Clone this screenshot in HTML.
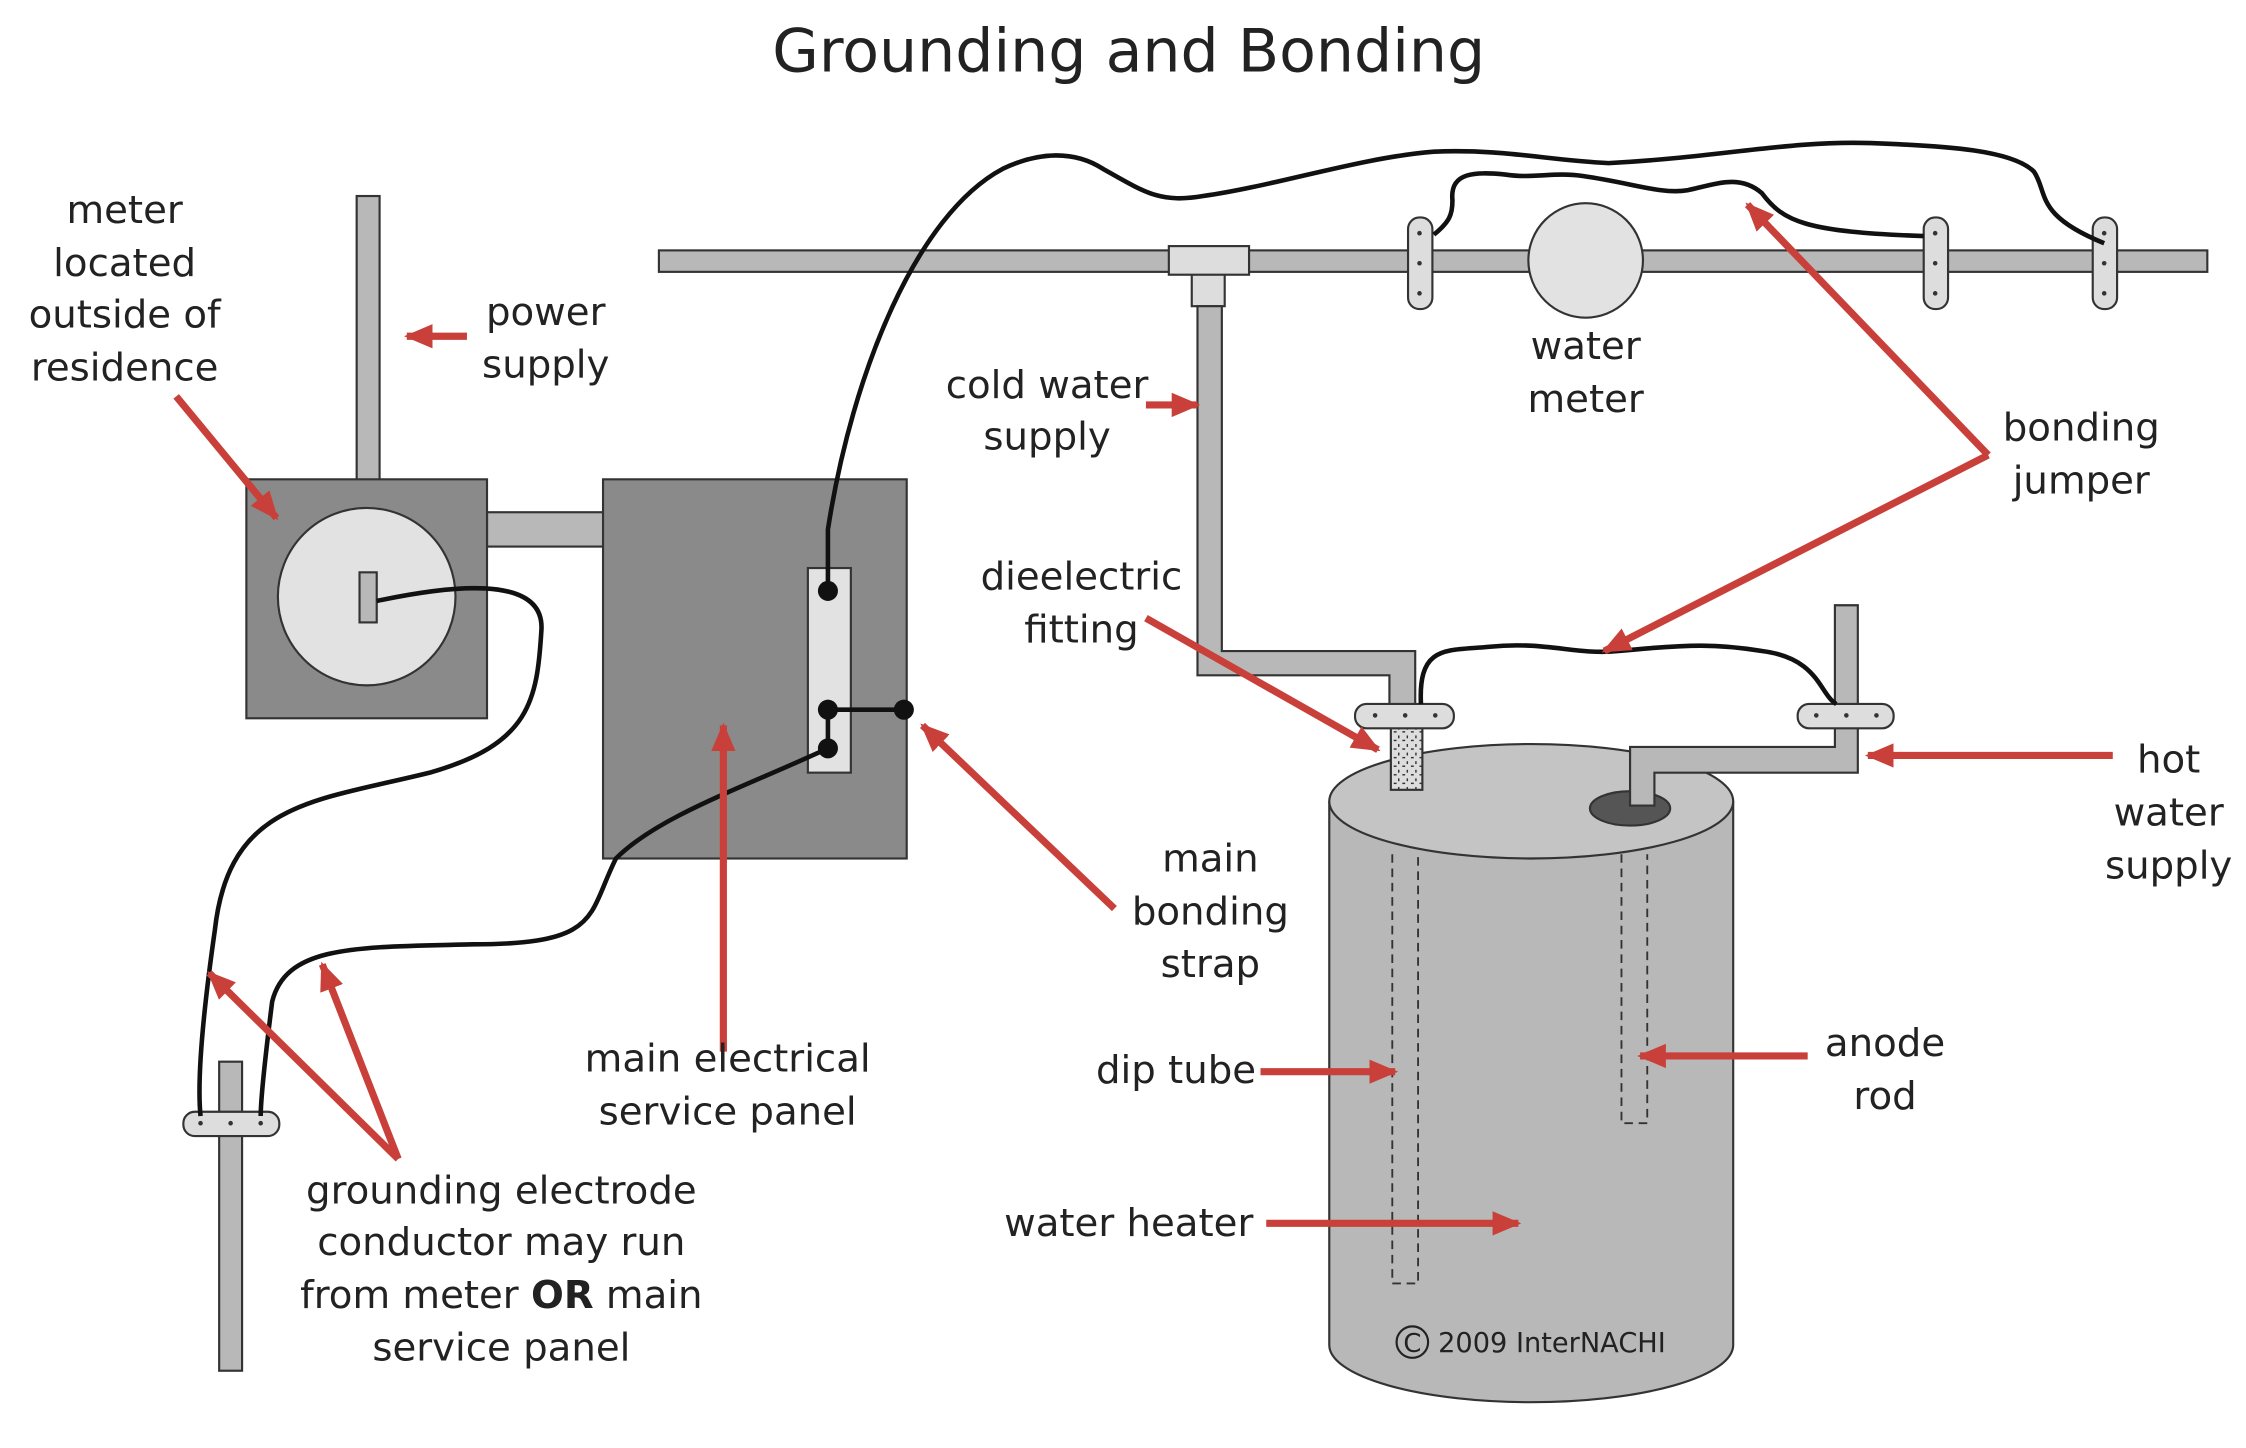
<!DOCTYPE html>
<html><head><meta charset="utf-8"><style>
html,body{margin:0;padding:0;background:#fff;}
svg{display:block}
text{font-family:"DejaVu Sans","Liberation Sans",sans-serif;fill:#222;}
</style></head><body>
<svg width="2246" height="1448" viewBox="0 0 1568 1012" preserveAspectRatio="none" xmlns="http://www.w3.org/2000/svg">
<defs>
<marker id="ah" markerWidth="4" markerHeight="3.4" refX="3.6" refY="1.7" orient="auto" markerUnits="strokeWidth">
<path d="M0,0 L4,1.7 L0,3.4 Z" fill="#c9403a"/></marker>
<pattern id="spk" width="6" height="6" patternUnits="userSpaceOnUse">
<rect width="6" height="6" fill="#ddd"/><rect x="1" y="1" width="2" height="1" fill="#333"/><rect x="4" y="4" width="1" height="2" fill="#333"/></pattern>
</defs>
<rect width="1568" height="1012" fill="#fff"/>
<text x="788" y="50" font-size="42" text-anchor="middle">Grounding and Bonding</text>

<g stroke="#333" stroke-width="1.5">
<rect x="249" y="137" width="16" height="200" fill="#b8b8b8"/>
<rect x="340" y="358" width="82" height="24" fill="#b8b8b8"/>
<rect x="172" y="335" width="168" height="167" fill="#8a8a8a"/>
<circle cx="256" cy="417" r="62" fill="#e2e2e2"/>
<rect x="251" y="400" width="12" height="35" fill="#b8b8b8"/>
<rect x="421" y="335" width="212" height="265" fill="#8a8a8a"/>
<rect x="564" y="397" width="30" height="143" fill="#e2e2e2"/>
<rect x="460" y="175" width="1081" height="15" fill="#b8b8b8"/>
<rect x="832" y="190" width="23" height="24" fill="#ddd"/>
<rect x="816" y="172" width="56" height="20" fill="#ddd"/>
<path d="M836,214 H853 V455 H988 V495 H970 V472 H836 Z" fill="#b8b8b8"/>
<circle cx="1107" cy="182" r="40" fill="#e2e2e2"/>
<path d="M928,560 V940 A141,40 0 0 0 1210,940 V560" fill="#b8b8b8"/>
<ellipse cx="1069" cy="560" rx="141" ry="40" fill="#c4c4c4"/>
<ellipse cx="1138" cy="565" rx="28" ry="12" fill="#555"/>
<path d="M1138,563 V522 H1281 V423 H1297 V540 H1155 V563 Z" fill="#b8b8b8"/>
<rect x="971" y="508" width="22" height="44" fill="url(#spk)"/>
<rect x="153" y="742" width="16" height="216" fill="#b8b8b8"/>
</g>
<g fill="none" stroke="#333" stroke-width="1.3" stroke-dasharray="6,4">
<path d="M972,597 V897 H990 V597"/>
<path d="M1132,597 V785 H1150 V597"/>
</g>
<g fill="#ddd" stroke="#333" stroke-width="1.5">
<rect x="983" y="152" width="17" height="64" rx="8"/>
<rect x="1343" y="152" width="17" height="64" rx="8"/>
<rect x="1461" y="152" width="17" height="64" rx="8"/>
<rect x="946" y="492" width="69" height="17" rx="8"/>
<rect x="1255" y="492" width="67" height="17" rx="8"/>
<rect x="128" y="777" width="67" height="17" rx="8"/>
</g>
<g fill="#333">
<circle cx="991" cy="163" r="1.6"/><circle cx="991" cy="184" r="1.6"/><circle cx="991" cy="205" r="1.6"/>
<circle cx="1351" cy="163" r="1.6"/><circle cx="1351" cy="184" r="1.6"/><circle cx="1351" cy="205" r="1.6"/>
<circle cx="1469" cy="163" r="1.6"/><circle cx="1469" cy="184" r="1.6"/><circle cx="1469" cy="205" r="1.6"/>
<circle cx="960" cy="500" r="1.6"/><circle cx="981" cy="500" r="1.6"/><circle cx="1002" cy="500" r="1.6"/>
<circle cx="1268" cy="500" r="1.6"/><circle cx="1289" cy="500" r="1.6"/><circle cx="1310" cy="500" r="1.6"/>
<circle cx="140" cy="785" r="1.6"/><circle cx="161" cy="785" r="1.6"/><circle cx="182" cy="785" r="1.6"/>
</g>
<g fill="none" stroke="#111" stroke-width="3.2">
<path d="M578,413 V370 C595,260 640,150 700,118 C725,106 750,105 770,118 C800,135 810,142 840,137 C890,130 950,110 1001,106 C1050,104 1080,112 1123,114 C1200,110 1250,98 1306,100 C1360,102 1405,105 1420,120 C1430,135 1420,150 1469,170"/>
<path d="M1001,164 C1012,155 1014,150 1014,140 C1012,120 1030,120 1051,122 C1070,125 1085,120 1105,123 C1140,128 1160,136 1178,133 C1200,128 1215,122 1230,135 C1245,155 1260,162 1343,165"/>
<path d="M578,523 L578,496 L631,496"/>
<path d="M263,420 C310,410 380,400 378,440 C375,490 370,520 300,540 C220,560 160,560 150,650 C140,720 138,760 140,780"/>
<path d="M578,523 C520,550 460,570 430,600 C410,640 420,660 330,660 C250,662 200,660 190,700 C185,740 182,770 182,780"/>
<path d="M992,492 C990,450 1010,455 1040,452 C1080,448 1100,458 1130,455 C1180,450 1200,450 1230,455 C1270,460 1270,485 1282,492"/>
</g>
<g fill="#111"><circle cx="578" cy="413" r="7"/><circle cx="578" cy="496" r="7"/><circle cx="578" cy="523" r="7"/><circle cx="631" cy="496" r="7"/></g>
<g stroke="#c9403a" stroke-width="5" fill="none" marker-end="url(#ah)">
<path d="M326,235 H284"/>
<path d="M123,277 L193,362"/>
<path d="M505,735 V507"/>
<path d="M778,635 L644,507"/>
<path d="M800,283 H836"/>
<path d="M800,432 L962,524"/>
<path d="M1388,318 L1220,143"/>
<path d="M1388,318 L1120,455"/>
<path d="M1475,528 H1304"/>
<path d="M880,749 H974"/>
<path d="M1262,738 H1145"/>
<path d="M884,855 H1060"/>
<path d="M278,810 L146,680"/>
<path d="M278,810 L225,674"/>
</g>
<g font-size="27" text-anchor="middle">
<text x="87" y="156">meter</text><text x="87" y="193">located</text><text x="87" y="229">outside of</text><text x="87" y="266">residence</text>
<text x="381" y="227">power</text><text x="381" y="264">supply</text>
<text x="731" y="278">cold water</text><text x="731" y="314">supply</text>
<text x="1107" y="251">water</text><text x="1107" y="288">meter</text>
<text x="1453" y="308">bonding</text><text x="1453" y="345">jumper</text>
<text x="755" y="412">dieelectric</text><text x="755" y="449">fitting</text>
<text x="1514" y="540">hot</text><text x="1514" y="577">water</text><text x="1514" y="614">supply</text>
<text x="845" y="609">main</text><text x="845" y="646">bonding</text><text x="845" y="683">strap</text>
<text x="508" y="749">main electrical</text><text x="508" y="786">service panel</text>
<text x="821" y="757">dip tube</text>
<text x="1316" y="738">anode</text><text x="1316" y="775">rod</text>
<text x="788" y="864">water heater</text>
<text x="350" y="841">grounding electrode</text><text x="350" y="877">conductor may run</text>
<text x="350" y="914">from meter <tspan font-weight="bold">OR</tspan> main</text><text x="350" y="951">service panel</text>
</g>
<circle cx="986" cy="938" r="11" fill="none" stroke="#222" stroke-width="1.5"/>
<text x="986" y="945" font-size="18" text-anchor="middle">C</text>
<text x="1004" y="945" font-size="19">2009  InterNACHI</text>
</svg>
</body></html>
